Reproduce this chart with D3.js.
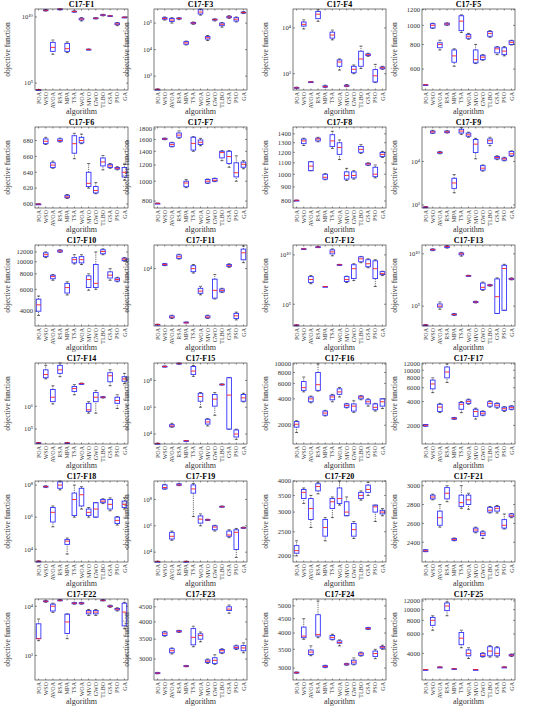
<!DOCTYPE html>
<html>
<head>
<meta charset="utf-8">
<script src="https://cdn.jsdelivr.net/npm/d3@7"></script>
<style>
  body { margin: 0; background: white; }
  text { font-family: "Liberation Serif", "DejaVu Serif", serif; }
</style>
</head>
<body>
<svg id="chart" width="550" height="708"></svg>
<script>
// algorithms on every x axis
var algorithms = ["POA", "WSO", "AVOA", "RSA", "MPA", "TSA", "WOA", "MVO", "GWO", "TLBO", "GSA", "PSO", "GA"]

var panelNames = ["C17-F1", "C17-F3", "C17-F4", "C17-F5", "C17-F6", "C17-F7", "C17-F8", "C17-F9",
                  "C17-F10", "C17-F11", "C17-F12", "C17-F13", "C17-F14", "C17-F15", "C17-F16", "C17-F17",
                  "C17-F18", "C17-F19", "C17-F20", "C17-F21", "C17-F22", "C17-F23", "C17-F24", "C17-F25"]

var scaleTypes = ["log", "log", "log", "log", "linear", "log", "log", "log",
                  "log", "log", "log", "log", "log", "log", "log", "log",
                  "log", "log", "log", "linear", "log", "log", "log", "log"]

var domains = [[3e4, 4e10], [3e2, 3.4e5], [440, 2.6e4], [470, 1210], [595, 697], [740, 1840], [755, 1482], [850, 6.2e4],
               [3040, 13650], [2.6e3, 1.74e4], [6.3e2, 1e11], [1.26e3, 7e10], [2.2e4, 8e7], [1.8e3, 2e9], [1220, 10260], [1160, 12350],
               [1.6e3, 1.8e8], [1.8e3, 2.5e9], [1890, 4000], [2190, 3050], [320, 1.4e4], [2550, 4780], [2720, 5290], [2290, 12500]]

var tickVals = [[1e5, 1e10], [1e3, 1e4, 1e5], [1e3, 1e4], [600, 800, 1000, 1200], [600, 620, 640, 660, 680],
                [800, 1000, 1200, 1400, 1600, 1800], [800, 900, 1000, 1100, 1200, 1300, 1400], [1e3, 1e4],
                [4000, 6000, 8000, 10000, 12000], [1e4], [1e5, 1e10], [1e5, 1e10], [1e5, 1e6], [1e4, 1e6, 1e8],
                [2000, 4000, 6000, 8000, 10000], [2000, 4000, 6000, 8000, 10000, 12000], [1e4, 1e6, 1e8], [1e4, 1e6, 1e8],
                [2000, 2500, 3000, 3500, 4000], [2400, 2600, 2800, 3000], [1e3, 1e4], [3000, 3500, 4000, 4500],
                [3000, 3500, 4000, 4500, 5000], [4000, 6000, 8000, 10000, 12000]]

// per algorithm: [lower whisker, q1, median, q3, upper whisker]
var f1 = [[3.2e4,3.2e4,3.2e4,3.2e4,3.2e4],[2.8e10,3e10,3.2e10,3.4e10,3.6e10],[1.5e7,2.5e7,5e7,1.2e8,1.8e8],[3.5e10,3.8e10,4e10,4e10,4e10],
          [2e7,2.5e7,4e7,1e8,1.3e8],[2.3e10,2.5e10,2.6e10,2.7e10,2.9e10],[5e9,6e9,7e9,8e9,9e9],[3.2e7,3.4e7,3.5e7,3.6e7,3.8e7],
          [7e9,7.5e9,8e9,8.5e9,9e9],[1.2e10,1.3e10,1.4e10,1.5e10,1.6e10],[1.1e10,1.15e10,1.2e10,1.25e10,1.3e10],[2.2e9,2.6e9,3e9,3.5e9,3.8e9],[9e9,9.3e9,9.5e9,9.7e9,1e10]]
var f3 = [[3.2e2,3.2e2,3.2e2,3.2e2,3.2e2],[1.3e5,1.4e5,1.5e5,1.6e5,1.7e5],[1e5,1.15e5,1.3e5,1.5e5,1.6e5],[1.35e5,1.45e5,1.5e5,1.55e5,1.6e5],
          [1.5e4,1.6e4,1.8e4,2e4,2.1e4],[9e4,9.5e4,1e5,1.05e5,1.1e5],[2e5,2.2e5,2.6e5,3.2e5,3.4e5],[2.2e4,2.5e4,2.8e4,3.1e4,3.4e4],
          [1.2e5,1.3e5,1.35e5,1.4e5,1.45e5],[7e4,8e4,9e4,1e5,1.05e5],[1.5e5,1.6e5,1.7e5,1.8e5,1.9e5],[1.1e5,1.2e5,1.4e5,1.6e5,1.7e5],[2.3e5,2.4e5,2.5e5,2.6e5,2.7e5]]
var f4 = [[480,480,490,500,510],[9.5e3,1.1e4,1.2e4,1.35e4,1.5e4],[650,655,660,665,670],[1.4e4,1.6e4,2e4,2.3e4,2.5e4],
          [500,510,520,540,560],[5.5e3,6e3,7e3,8.1e3,9e3],[1.2e3,1.45e3,1.8e3,2e3,2.1e3],[520,530,540,560,580],
          [1e3,1.05e3,1.25e3,1.45e3,1.55e3],[1.3e3,1.45e3,2.1e3,3.1e3,4e3],[2.4e3,2.5e3,2.6e3,2.7e3,2.8e3],[640,660,900,1.23e3,1.6e3],[1.25e3,1.28e3,1.35e3,1.4e3,1.45e3]]
var f5 = [[500,500,500,500,500],[965,970,1000,1019,1025],[750,770,800,816,840],[1000,1005,1015,1025,1030],
          [620,650,700,750,760],[920,940,1050,1118,1130],[850,860,880,900,910],[640,645,670,750,800],
          [665,670,690,705,710],[870,880,910,930,940],[710,725,760,775,780],[700,710,740,770,780],[795,800,820,835,840]]
var f6 = [[600,600,600,600,600],[675,676,679,682,684],[645,646,649,652,654],[678,679,680,682,683],
          [607,608,609,611,612],[657,664,676,686,689],[676,677,680,684,688],[620,622,626,640,651],
          [613,614,617,622,627],[643,648,653,658,661],[645,646,648,650,651],[643,644,645,646,647],[630,634,640,646,650]]
var f7 = [[780,780,780,780,780],[1595,1600,1610,1620,1625],[1470,1480,1510,1540,1550],[1620,1640,1680,1720,1760],
          [930,940,980,1000,1020],[1400,1420,1530,1640,1650],[1490,1510,1550,1590,1620],[975,980,1000,1020,1025],
          [995,1000,1010,1030,1035],[1260,1300,1380,1400,1410],[1170,1220,1320,1400,1410],[1000,1050,1100,1230,1330],[1150,1170,1210,1240,1260]]
var f8 = [[805,805,805,805,805],[1270,1290,1320,1340,1350],[1030,1030,1070,1110,1110],[1310,1320,1340,1350,1360],
          [955,960,975,1000,1005],[1240,1260,1320,1390,1430],[1130,1180,1250,1300,1330],[950,960,990,1020,1050],
          [960,970,990,1020,1030],[1190,1200,1230,1260,1280],[1075,1080,1090,1095,1100],[970,980,1000,1060,1080],[1150,1160,1180,1200,1210]]
var f9 = [[900,900,900,900,900],[4.4e4,4.5e4,4.8e4,5e4,5.2e4],[1.5e4,1.55e4,1.6e4,1.65e4,1.7e4],[4.5e4,4.6e4,4.8e4,5e4,5.1e4],
          [1.9e3,2.4e3,3.2e3,4.1e3,5e3],[4.2e4,4.5e4,5e4,5.5e4,6e4],[3.6e4,3.8e4,4.1e4,4.5e4,4.7e4],[1.15e4,1.6e4,2.5e4,3.2e4,3.4e4],
          [6e3,6.3e3,7e3,8e3,8.3e3],[2.3e4,2.6e4,3e4,3.3e4,3.6e4],[1.1e4,1.15e4,1.23e4,1.3e4,1.35e4],[1.03e4,1.07e4,1.15e4,1.2e4,1.25e4],[1.3e4,1.35e4,1.5e4,1.7e4,1.75e4]]
var f10 = [[3700,4000,4500,5000,5300],[10800,11000,11400,11800,12000],[7100,7300,7600,7800,7900],[11900,12000,12200,12400,12500],
           [5400,5600,6200,6700,6900],[9600,9800,10400,10800,11400],[9500,9800,10400,11000,11400],[5900,6200,7200,7700,8000],
           [6000,6200,6700,9500,12000],[11400,11600,12100,12500,12700],[7100,7400,7800,8300,8800],[6900,7000,7200,7400,7500],[10100,10200,10500,10700,10800]]
var f11 = [[2.7e3,2.7e3,2.7e3,2.7e3,2.7e3],[1.07e4,1.08e4,1.1e4,1.12e4,1.13e4],[3.1e3,3.15e3,3.2e3,3.3e3,3.35e3],[1.25e4,1.27e4,1.32e4,1.38e4,1.4e4],
           [2.8e3,2.8e3,2.8e3,2.85e3,2.85e3],[9e3,9.3e3,1e4,1.07e4,1.1e4],[5.4e3,5.6e3,5.9e3,6.3e3,6.6e3],[3.1e3,3.15e3,3.2e3,3.3e3,3.35e3],
           [4.9e3,5e3,6e3,7.8e3,8.7e3],[5.7e3,5.8e3,6e3,6.2e3,6.3e3],[1.03e4,1.05e4,1.07e4,1.1e4,1.12e4],[3e3,3.1e3,3.3e3,3.5e3,3.6e3],[1.15e4,1.23e4,1.45e4,1.58e4,1.7e4]]
var f12 = [[7e2,7.5e2,8e2,8e2,8e2],[3.5e10,3.8e10,4e10,4.2e10,4.5e10],[1.2e7,1.6e7,3.2e7,6.3e7,8e7],[5.5e10,6e10,6.3e10,6.6e10,7e10],
           [6.3e6,6.3e6,6.3e6,6.3e6,6.3e6],[8e9,1.26e10,2e10,3.2e10,4e10],[9e8,9.5e8,1e9,1.05e9,1.1e9],[1.6e7,2e7,3.2e7,6.3e7,7e7],
           [2.5e7,4e7,4e8,1e9,1.26e9],[1.6e9,2e9,4e9,6.3e9,7e9],[5e8,6.3e8,1.26e9,3.2e9,4e9],[6.3e6,4e7,4e8,2.5e9,3.2e9],[8e7,1e8,1.26e8,2e8,2.2e8]]
var f13 = [[1.6e3,1.6e3,1.6e3,1.6e3,1.6e3],[2e10,2.2e10,2.5e10,2.8e10,3e10],[5e4,8e4,1e5,1.6e5,2.5e5],[3.5e10,4e10,5e10,5.5e10,6e10],
           [1.3e4,1.4e4,1.6e4,1.8e4,2e4],[6e9,8e9,1e10,1.2e10,1.4e10],[7e7,7.5e7,8e7,8.5e7,9e7],[2e5,2.2e5,2.5e5,2.8e5,3e5],
           [3.2e6,4e6,6.3e6,1.6e7,2e7],[8e6,9e6,1e7,1.1e7,1.2e7],[2e4,2e4,8e5,4e7,5e7],[4e4,4e4,4e8,8e8,1e9],[3.2e7,3.5e7,4e7,4.5e7,5e7]]
var f14 = [[2.5e4,2.5e4,2.5e4,2.5e4,2.5e4],[1.6e7,1.8e7,2.5e7,4e7,6.3e7],[1.26e6,1.6e6,2.5e6,5.5e6,8e6],[2e7,2.8e7,4e7,6.3e7,8e7],
           [2.5e4,2.5e4,2.5e4,2.5e4,2.5e4],[3.2e6,4.5e6,6e6,7.4e6,9e6],[9.5e6,1e7,1e7,1e7,1.05e7],[5e5,6e5,7e5,1.35e6,1.6e6],
           [5e5,1.6e6,2.5e6,4e6,5e6],[2.3e6,2.4e6,2.5e6,2.6e6,2.7e6],[8e6,1.2e7,2.2e7,3e7,4e7],[8e5,1.35e6,1.8e6,2.5e6,3.2e6],[1e7,1.26e7,1.6e7,2e7,2.8e7]]
var f15 = [[2e3,2e3,2e3,2e3,2e3],[1e9,1.05e9,1.1e9,1.15e9,1.2e9],[3.2e4,3.5e4,4e4,5e4,6.3e4],[1.7e9,1.8e9,1.8e9,1.9e9,2e9],
           [3.2e3,3.2e3,3.2e3,3.2e3,3.2e3],[2e8,2.8e8,5e8,1.1e9,1.3e9],[1e6,2.8e6,6.3e6,1.1e7,1.26e7],[4e4,5.5e4,8e4,1.26e5,1.4e5],
           [2.5e5,1.2e6,4e6,9e6,1.26e7],[4.5e7,4.7e7,5e7,5.3e7,5.5e7],[2.3e4,2.3e4,8e6,1.6e8,1.6e8],[4e3,6e3,1e4,2e4,2.3e4],[2.5e6,2.8e6,5e6,9e6,1.1e7]]
var f16 = [[1650,1900,2050,2200,2250],[4800,5000,5370,6300,7100],[3600,3700,4000,4200,4300],[4900,5000,5800,8000,10000],
           [2550,2600,2750,2900,2950],[3700,3900,4200,4400,4500],[4200,4500,4800,5200,5400],[3150,3200,3350,3500,3550],
           [2800,2900,3300,3500,3800],[3900,4000,4200,4300,4350],[3300,3500,3700,3900,4000],[2900,3000,3200,3500,3550],[3100,3300,3700,4000,4000]]
var f17 = [[1950,1950,2000,2050,2050],[5200,5800,6700,7500,8000],[2900,3000,3400,3700,3800],[7000,8000,9500,11000,12000],
           [2380,2400,2450,2500,2520],[2900,3200,3700,3900,4000],[3700,3800,4000,4200,4300],[2400,2600,3000,3200,3300],
           [2650,2700,2850,3000,3050],[3400,3500,3800,4000,4100],[3300,3400,3600,3800,3850],[3000,3100,3250,3400,3450],[3150,3200,3350,3500,3550]]
var f18 = [[1.8e3,1.8e3,1.8e3,1.8e3,1.8e3],[7e7,7.5e7,8e7,8.5e7,9e7],[2.5e5,5e5,2e6,4e6,5e6],[5e7,6.3e7,1e8,1.6e8,1.8e8],
           [5e3,2e4,3.2e4,4e4,5e4],[1e6,1.26e6,1.26e7,3.2e7,1e8],[3.2e6,5e6,2.5e7,6.3e7,8e7],[1e6,1.26e6,2e6,3.2e6,4e6],
           [1e6,1e6,3.2e6,8e6,8e6],[7e6,8e6,1e7,1.26e7,1.4e7],[2.5e6,3.2e6,6.3e6,1.26e7,1.6e7],[3.2e5,4e5,6.3e5,1e6,1.1e6],[3.2e6,4e6,6.3e6,1e7,1.6e7]]
var f19 = [[2e3,2e3,2e3,2e3,2e3],[6e8,6.3e8,8e8,1.26e9,1.4e9],[8e4,1e5,1.6e5,3.2e5,4e5],[1.1e9,1.2e9,1.26e9,1.5e9,1.6e9],
           [2e3,2e3,2e3,2e3,2e3],[5e6,3e8,6.3e8,1.26e9,1.6e9],[1e6,1.6e6,3.2e6,5.6e6,8e6],[2.5e6,2.7e6,2.8e6,3e6,3.2e6],
           [4e5,5e5,8e5,1e6,1.1e6],[2.6e7,2.7e7,2.8e7,3e7,3.2e7],[1.26e5,1.6e5,2e5,4e5,5e5],[4e3,1.6e4,3.2e5,5e5,6.3e5],[6.3e5,6.5e5,7e5,7.5e5,8e5]]
var f20 = [[2000,2050,2100,2200,2300],[3250,3400,3600,3700,3750],[2600,2800,3100,3400,3500],[3550,3650,3800,3900,3950],
           [2300,2400,2600,2800,2850],[2850,3100,3300,3400,3450],[3200,3250,3400,3750,4000],[2900,2900,3000,3300,3450],
           [2350,2400,2550,2700,2750],[3350,3400,3500,3600,3650],[3500,3600,3700,3850,3950],[2750,3000,3150,3200,3200],[2900,2950,3000,3050,3100]]
var f21 = [[2300,2300,2310,2320,2320],[2850,2860,2880,2900,2910],[2560,2580,2660,2730,2800],[2830,2860,2920,2980,3000],
           [2415,2420,2430,2440,2445],[2760,2780,2820,2900,3000],[2750,2800,2850,2900,2920],[2500,2510,2530,2550,2560],
           [2440,2470,2490,2510,2520],[2710,2720,2740,2770,2780],[2710,2730,2760,2780,2790],[2540,2550,2580,2640,2700],[2660,2670,2680,2700,2705]]
var f22 = [[2e3,2.2e3,2.2e3,4.4e3,5.5e3],[1.2e4,1.24e4,1.26e4,1.28e4,1.3e4],[7.5e3,8e3,1e4,1.1e4,1.15e4],[1.28e4,1.3e4,1.32e4,1.34e4,1.36e4],
           [2.2e3,2.8e3,4.8e3,6.9e3,7e3],[1.1e4,1.12e4,1.15e4,1.18e4,1.2e4],[1.1e4,1.12e4,1.15e4,1.18e4,1.2e4],[6.5e3,7e3,7.6e3,8.2e3,8.6e3],
           [6.5e3,7e3,7.6e3,8.2e3,8.6e3],[1.28e4,1.3e4,1.32e4,1.34e4,1.36e4],[9.5e3,9.8e3,1e4,1.02e4,1.05e4],[8e3,8.4e3,8.7e3,9e3,9.3e3],[3.5e3,4e3,7.6e3,1.15e4,1.2e4]]
var f23 = [[2675,2680,2690,2700,2705],[3580,3600,3650,3700,3720],[3120,3150,3200,3250,3270],[3690,3700,3720,3740,3750],
           [2825,2830,2840,2850,2855],[3300,3350,3550,3800,3870],[3430,3500,3600,3650,3700],[2900,2920,2950,2980,3000],
           [2880,2900,2970,3030,3100],[3130,3150,3200,3230,3250],[4280,4370,4420,4500,4560],[3230,3250,3280,3320,3340],[3150,3200,3270,3330,3400]]
var f24 = [[2875,2880,2890,2900,2905],[3800,3850,3900,4200,4500],[3320,3350,3420,3480,3600],[3850,3900,3950,4650,5200],
           [3010,3020,3040,3060,3070],[3780,3800,3860,3920,3960],[3600,3680,3700,3750,3780],[3070,3080,3100,3110,3120],
           [3080,3100,3150,3200,3260],[3310,3330,3370,3400,3420],[4120,4130,4150,4180,4190],[3240,3300,3380,3450,3500],[3500,3530,3560,3580,3620]]
var f25 = [[2850,2850,2850,2850,2850],[6500,7200,8000,8500,8800],[3000,3000,3000,3000,3000],[8800,9800,10800,11500,11800],
           [2900,2900,2900,2900,2900],[4500,4800,5500,6200,6500],[3600,3800,4000,4300,4500],[2850,2850,2850,2850,2850],
           [3700,3750,3850,4000,4050],[3700,3800,4200,4600,4700],[3700,3800,4000,4500,4600],[3000,3000,3000,3000,3000],[3750,3800,3850,3900,3950]]

var stats = [f1, f3, f4, f5, f6, f7, f8, f9, f10, f11, f12, f13, f14, f15, f16, f17, f18, f19, f20, f21, f22, f23, f24, f25]

var dimensions = {
    width: 550,
    height: 708,
    colLefts: [35, 154, 293, 422],
    plotWidth: 93,
    rowHeight: 118,
    plotTop: 9,
    plotBottom: 90
}

var svg = d3.select("#chart")
var supers = {"0":"⁰","1":"¹","2":"²","3":"³","4":"⁴","5":"⁵","6":"⁶","7":"⁷","8":"⁸","9":"⁹"}

panelNames.forEach(function(name, i) {
    var col = i % 4, row = Math.floor(i / 4)
    var x0 = dimensions.colLefts[col]
    var top = row * dimensions.rowHeight + dimensions.plotTop
    var bottom = row * dimensions.rowHeight + dimensions.plotBottom
    var g = svg.append("g")

    var x = d3.scalePoint().domain(algorithms).range([x0, x0 + dimensions.plotWidth]).padding(0.5)
    var y = (scaleTypes[i] == "log" ? d3.scaleLog() : d3.scaleLinear())
                .domain(domains[i]).range([bottom, top])

    // title
    g.append("text")
        .attr("x", x0 + dimensions.plotWidth / 2)
        .attr("y", top - 2)
        .attr("text-anchor", "middle")
        .style("font-size", "8px")
        .style("font-weight", "bold")
        .text(name)

    // boxes
    var data = stats[i]
    var bw = 4.6
    data.forEach(function(s, j) {
        var cx = x(algorithms[j])
        // whiskers
        g.append("line").attr("x1", cx).attr("x2", cx).attr("y1", y(s[0])).attr("y2", y(s[1]))
            .attr("stroke", "black").attr("stroke-width", 0.6).attr("stroke-dasharray", "1.2,1")
        g.append("line").attr("x1", cx).attr("x2", cx).attr("y1", y(s[3])).attr("y2", y(s[4]))
            .attr("stroke", "black").attr("stroke-width", 0.6).attr("stroke-dasharray", "1.2,1")
        ;[s[0], s[4]].forEach(function(v) {
            g.append("line").attr("x1", cx - 1.5).attr("x2", cx + 1.5).attr("y1", y(v)).attr("y2", y(v))
                .attr("stroke", "black").attr("stroke-width", 0.6)
        })
        g.append("rect")
            .attr("x", cx - bw / 2)
            .attr("y", y(s[3]))
            .attr("width", bw)
            .attr("height", Math.max(0.8, y(s[1]) - y(s[3])))
            .attr("fill", "none")
            .attr("stroke", "#3333ff")
            .attr("stroke-width", 0.9)
        g.append("line").attr("x1", cx - bw / 2).attr("x2", cx + bw / 2).attr("y1", y(s[2])).attr("y2", y(s[2]))
            .attr("stroke", "#ff2020").attr("stroke-width", 0.9)
    })

    // frame with inward ticks
    g.append("rect").attr("x", x0).attr("y", top).attr("width", dimensions.plotWidth).attr("height", bottom - top)
        .attr("fill", "none").attr("stroke", "#222").attr("stroke-width", 0.6)
    algorithms.forEach(function(a) {
        g.append("line").attr("x1", x(a)).attr("x2", x(a)).attr("y1", bottom).attr("y2", bottom - 1.5)
            .attr("stroke", "#222").attr("stroke-width", 0.5)
        g.append("line").attr("x1", x(a)).attr("x2", x(a)).attr("y1", top).attr("y2", top + 1.5)
            .attr("stroke", "#222").attr("stroke-width", 0.5)
        g.append("text")
            .attr("transform", "translate(" + (x(a) + 2.1) + "," + (bottom + 2) + ") rotate(-90)")
            .attr("text-anchor", "end")
            .style("font-size", "6px")
            .style("fill", "#333")
            .text(a)
    })
    tickVals[i].forEach(function(t) {
        g.append("line").attr("x1", x0).attr("x2", x0 + 2).attr("y1", y(t)).attr("y2", y(t))
            .attr("stroke", "#222").attr("stroke-width", 0.5)
        g.append("line").attr("x1", x0 + dimensions.plotWidth).attr("x2", x0 + dimensions.plotWidth - 2).attr("y1", y(t)).attr("y2", y(t))
            .attr("stroke", "#222").attr("stroke-width", 0.5)
        var label
        if (scaleTypes[i] == "log" && t >= 1e3 && tickVals[i].every(v => Math.abs(Math.log10(v) % 1) < 1e-9)) {
            label = "10" + String(Math.round(Math.log10(t))).split("").map(c => supers[c]).join("")
        } else {
            label = String(t)
        }
        g.append("text")
            .attr("x", x0 - 2)
            .attr("y", y(t) + 2.3)
            .attr("text-anchor", "end")
            .style("font-size", "6.6px")
            .style("fill", "#333")
            .text(label)
    })

    // axis labels
    g.append("text")
        .attr("x", x0 + dimensions.plotWidth / 2)
        .attr("y", row * dimensions.rowHeight + 114)
        .attr("text-anchor", "middle")
        .style("font-size", "8px")
        .style("fill", "#333")
        .text("algorithm")
    g.append("text")
        .attr("transform", "translate(" + (x0 - 25) + "," + ((top + bottom) / 2) + ") rotate(-90)")
        .attr("text-anchor", "middle")
        .style("font-size", "7.5px")
        .style("fill", "#333")
        .text("objective function")
})
</script>
</body>
</html>
